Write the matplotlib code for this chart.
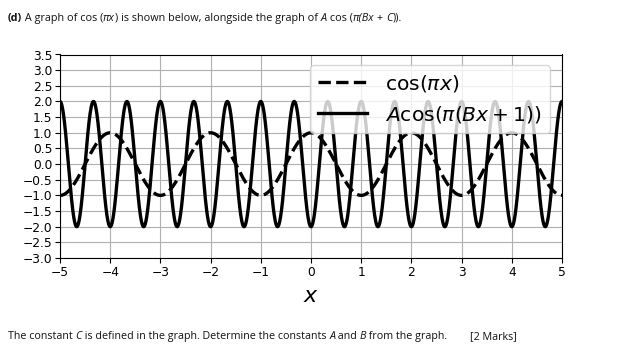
import numpy as np
import matplotlib
matplotlib.use("Agg")
import matplotlib.pyplot as plt

# Parameters of the plotted functions
amp_A = 2.0
freq_B = 3.0
phase_C = 1.0
x_range = [-5, 5]
y_range = [-3.0, 3.5]
x_ticks = [-5, -4, -3, -2, -1, 0, 1, 2, 3, 4, 5]
y_ticks = [-3.0, -2.5, -2.0, -1.5, -1.0, -0.5, 0.0, 0.5, 1.0, 1.5, 2.0, 2.5, 3.0, 3.5]

x = np.linspace(x_range[0], x_range[1], 2000)
y_ref = np.cos(np.pi * x)
y_fit = amp_A * np.cos(np.pi * (freq_B * x + phase_C))

fig = plt.figure(figsize=(6.29, 3.6), dpi=100)
W, H = 629, 360
ax = fig.add_axes([60 / W, 1 - 258 / H, (562 - 60) / W, (258 - 54.5) / H])

ax.plot(x, y_ref, 'k--', lw=2.4, label=r'$\cos(\pi x)$')
ax.plot(x, y_fit, 'k-', lw=2.4, label=r'$A\cos(\pi(Bx+1))$')
ax.set_xlim(x_range)
ax.set_ylim(y_range)
ax.set_xticks(x_ticks)
ax.set_yticks(y_ticks)
ax.tick_params(labelsize=8.8, length=3.5, width=0.8, pad=2)
ax.grid(True, color='#b0b0b0', lw=0.8)
ax.set_xlabel(r'$x$', fontsize=16, labelpad=5)
leg = ax.legend(loc='upper right', fontsize=14.6, bbox_to_anchor=(0.976, 0.95),
                borderaxespad=0, handlelength=2.4, borderpad=0.4,
                labelspacing=0.5, handletextpad=0.9)

fig.canvas.draw()
renderer = fig.canvas.get_renderer()

def seq_text(x0, y0, pieces, size):
    xp = x0
    for s, style, weight in pieces:
        t = fig.text(xp / W, 1 - y0 / H, s, fontsize=size, family='Open Sans',
                     style=style, weight=weight, va='baseline', ha='left', color='#111111')
        bb = t.get_window_extent(renderer=renderer)
        xp += bb.width

header = [("(d)", 'normal', 'bold'),
          (" A graph of cos (", 'normal', 'normal'),
          ("πx", 'italic', 'normal'),
          (") is shown below, alongside the graph of ", 'normal', 'normal'),
          ("A", 'italic', 'normal'),
          (" cos (", 'normal', 'normal'),
          ("π(Bx", 'italic', 'normal'),
          (" + ", 'normal', 'normal'),
          ("C", 'italic', 'normal'),
          (")).", 'normal', 'normal')]
seq_text(7.5, 21, header, 7.8)

footer = [("The constant ", 'normal', 'normal'),
          ("C", 'italic', 'normal'),
          (" is defined in the graph. Determine the constants ", 'normal', 'normal'),
          ("A", 'italic', 'normal'),
          (" and ", 'normal', 'normal'),
          ("B", 'italic', 'normal'),
          (" from the graph.", 'normal', 'normal')]
seq_text(8, 339, footer, 7.72)
fig.text(470 / W, 1 - 339 / H, "[2 Marks]", fontsize=7.72, family='Open Sans',
         va='baseline', ha='left', color='#111111')

fig.savefig('out.png', dpi=100)
